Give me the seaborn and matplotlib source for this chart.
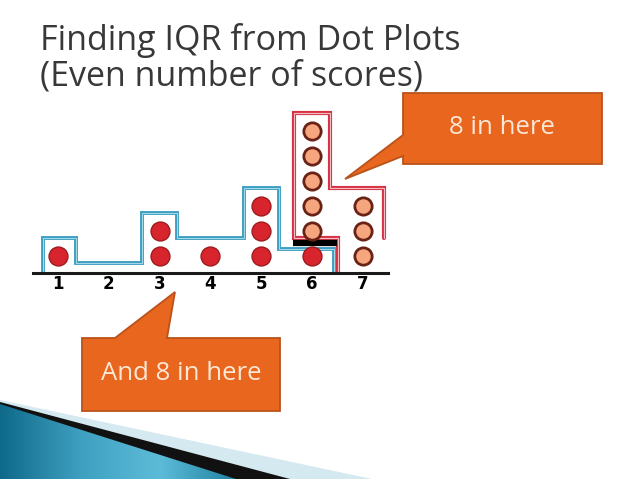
import numpy as np
import pandas as pd
import seaborn as sns
import matplotlib.pyplot as plt
from matplotlib.patches import Polygon
from matplotlib.colors import LinearSegmentedColormap

# Scores (16 scores -> even number)
scores = [1, 3, 3, 4, 5, 5, 5, 6, 6, 6, 6, 6, 6, 7, 7, 7]
values = [1, 2, 3, 4, 5, 6, 7]
tick_labels = ['1', '2', '3', '4', '5', '6', '7']
title_lines = ['Finding IQR from Dot Plots', '(Even number of scores)']
upper_note = '8 in here'
lower_note = 'And 8 in here'

sns.set_theme(style='white')
plt.rcParams['font.family'] = ['Open Sans', 'DejaVu Sans']

# stack every score on top of its value, split into lower/upper half
df = pd.DataFrame({'score': sorted(scores)})
df['level'] = df.groupby('score').cumcount() + 1
half = len(df) // 2
df['half'] = ['lower'] * half + ['upper'] * (len(df) - half)

low_counts = df[df['half'] == 'lower'].groupby('score').size().reindex(values, fill_value=0)
all_counts = df.groupby('score').size().reindex(values, fill_value=0)
split = df.loc[half - 1, 'score']   # column shared by both halves

fig = plt.figure(figsize=(6.38, 4.79), dpi=100)
fig.patch.set_facecolor('white')

# dot plot axes
ax = fig.add_axes([33 / 638, 206 / 479, 355 / 638, 173 / 479])
ax.patch.set_alpha(0)
base = 0.32
ax.set_xlim(0.508, 7.492)
ax.set_ylim(base, 7.22)


def step_outline(cols, tops, left, right, bottom):
    xs, ys = [left, left], [bottom, tops[0]]
    for i in range(len(cols) - 1):
        a, b = tops[i], tops[i + 1]
        xt = cols[i] + 0.35 if a > b else cols[i + 1] - 0.35
        xs += [xt, xt]
        ys += [a, b]
    xs += [right, right]
    ys += [tops[-1], bottom]
    return xs, ys


# blue outline around the lower 8 scores
blue_cols = [v for v in values if v <= split]
blue_tops = [low_counts[v] + (0.28 if v == split else 0.72) for v in blue_cols]
bx, by = step_outline(blue_cols, blue_tops, blue_cols[0] - 0.30, split + 0.43, base)
ax.plot(bx, by, color='#3f9fc2', lw=2.8, clip_on=False, zorder=2, solid_joinstyle='miter')
ax.plot(bx, by, color='#a6dbea', lw=0.7, clip_on=False, zorder=2, solid_joinstyle='miter')

# red outline around the upper 8 scores
red_cols = [v for v in values if v >= split]
red_tops = [all_counts[v] + 0.72 for v in red_cols]
low_top = low_counts[split] + 0.72
rx, ry = step_outline(red_cols, red_tops, split - 0.36, red_cols[-1] + 0.41, low_top)
rx = [split + 0.51, split + 0.51] + rx
ry = [base, low_top] + ry
ax.plot(rx, ry, color='#d63446', lw=3.0, clip_on=False, zorder=2, solid_joinstyle='miter')
ax.plot(rx, ry, color='#f6bcc3', lw=0.8, clip_on=False, zorder=2, solid_joinstyle='miter')

# median split bar
mid = low_counts[split] + 0.5
ax.plot([split - 0.38, split + 0.49], [mid, mid], color='black', lw=4.5, zorder=4,
        solid_capstyle='butt')

sns.scatterplot(data=df[df['half'] == 'lower'], x='score', y='level', s=185,
                color='#d8242c', edgecolor='#9e1a1f', linewidth=1.0, ax=ax,
                zorder=3, clip_on=False, legend=False)
sns.scatterplot(data=df[df['half'] == 'upper'], x='score', y='level', s=155,
                color='#f6a67e', edgecolor='#6a2216', linewidth=2.0, ax=ax,
                zorder=5, clip_on=False, legend=False)

ax.set_xticks(values)
ax.set_xticklabels(tick_labels, fontsize=12, fontweight='bold', family='DejaVu Sans')
ax.set_yticks([])
ax.set_xlabel('')
ax.set_ylabel('')
ax.tick_params(axis='x', length=0, pad=1.5, colors='black')
for side in ['left', 'top', 'right']:
    ax.spines[side].set_visible(False)
ax.spines['bottom'].set_color('#1a1a1a')
ax.spines['bottom'].set_linewidth(2.2)

# overlay in pixel coordinates for the slide decorations
ov = fig.add_axes([0, 0, 1, 1], zorder=10)
ov.axis('off')

ov.text(40, 50, title_lines[0], fontsize=24.5, color='#383838', va='baseline', ha='left')
ov.text(40, 85, title_lines[1], fontsize=24.5, color='#383838', va='baseline', ha='left')

orange = '#e8661e'
orange_edge = '#b9531b'
note_color = '#fde7d6'
call1 = Polygon([(403, 93), (602, 93), (602, 164), (403, 164), (403, 156), (345, 179), (403, 135)],
                closed=True, fc=orange, ec=orange_edge, lw=1.3)
ov.add_patch(call1)
ov.text(502, 127, upper_note, fontsize=18.5, color=note_color, ha='center', va='center')

call2 = Polygon([(82, 338), (115, 338), (175, 292), (167, 338), (280, 338), (280, 411), (82, 411)],
                closed=True, fc=orange, ec=orange_edge, lw=1.3)
ov.add_patch(call2)
ov.text(181, 374, lower_note, fontsize=18.5, color=note_color, ha='center', va='center')

# bottom-left swoosh
ov.add_patch(Polygon([(0, 400), (372, 479), (0, 479)], closed=True, fc='#d5e9f0', ec='none'))
ov.add_patch(Polygon([(0, 402), (290, 479), (0, 479)], closed=True, fc='#111111', ec='none'))
teal = Polygon([(0, 404), (236, 479), (0, 479)], closed=True, fc='none', ec='none')
ov.add_patch(teal)
cmap = LinearSegmentedColormap.from_list('swoosh', ['#0f6a8a', '#3f9fc0', '#5cbcd8', '#1d7f9f'])
grad = np.linspace(0, 1, 256).reshape(1, -1)
im = ov.imshow(grad, extent=(0, 240, 479, 400), cmap=cmap, aspect='auto', zorder=1)
im.set_clip_path(teal)

ov.set_xlim(0, 638)
ov.set_ylim(479, 0)

fig.savefig('out.png', dpi=100)
